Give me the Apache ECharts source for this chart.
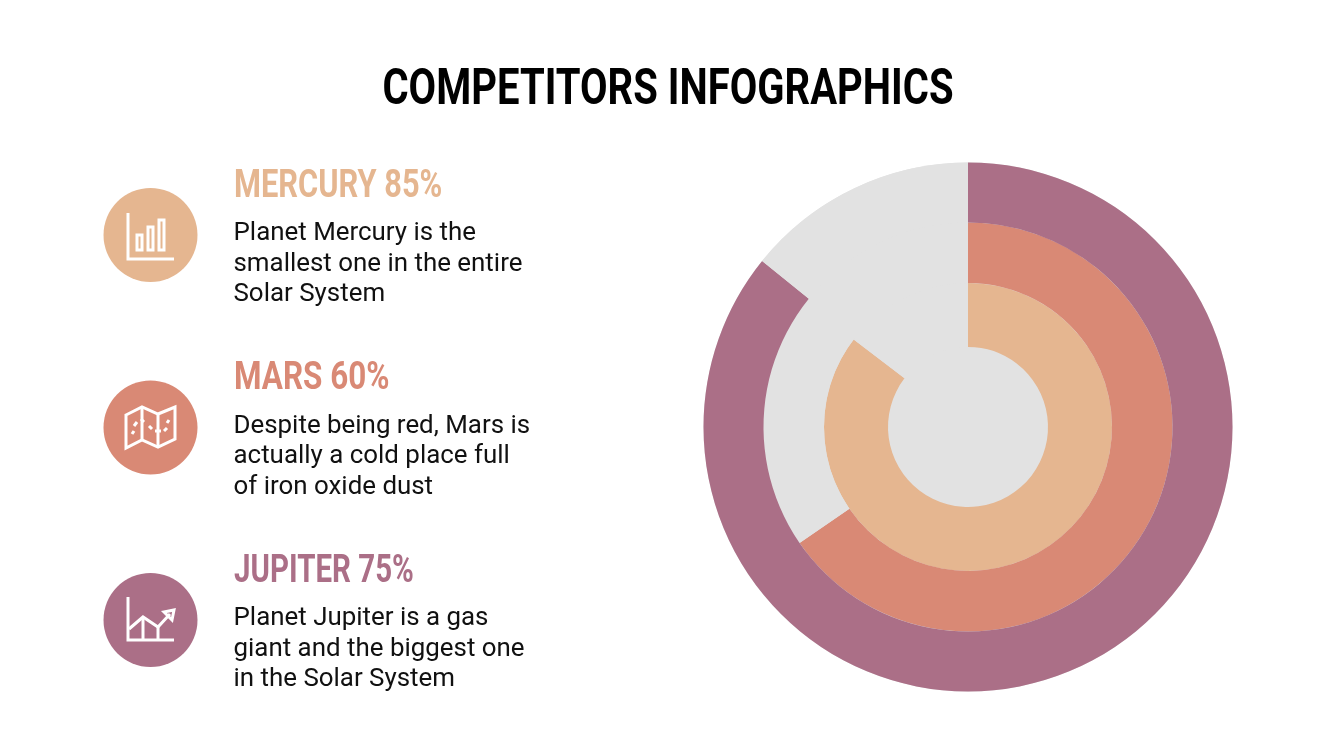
<!DOCTYPE html>
<html lang="en">
<head>
    <meta charset="UTF-8">
    <title>Competitors Infographics</title>
    <script src="https://cdn.jsdelivr.net/npm/echarts@6/dist/echarts.min.js"></script>
    <style>
        * { margin: 0; padding: 0; }
        body { background: #fff; }
        #chart { width: 1336px; height: 752px; }
    </style>
</head>
<body>
    <div id="chart"></div>
    <script>
        const titleText = 'COMPETITORS INFOGRAPHICS';
        const headings = ['MERCURY 85%', 'MARS 60%', 'JUPITER 75%'];
        const bodies = [
            ['Planet Mercury is the', 'smallest one in the entire', 'Solar System'],
            ['Despite being red, Mars is', 'actually a cold place full', 'of iron oxide dust'],
            ['Planet Jupiter is a gas', 'giant and the biggest one', 'in the Solar System']
        ];
        // share of each ring as drawn in the picture, inner ring first
        const ringNames = ['Mercury', 'Mars', 'Jupiter'];
        const ringValues = [85.4, 65.4, 85.8];
        const ringColors = ['#E5B690', '#D98975', '#AB6F87'];
        const grey = '#E2E2E2';

        const cx = 968, cy = 427;
        const ringRadii = [[80, 144], [144, 204.5], [204.5, 264.5]];
        const rowY = [235, 427.5, 620];
        // Roboto is squeezed to stand in for the condensed heading face
        const headingScale = [0.8, 0.816, 0.766];

        const series = [{
            type: 'pie', silent: true, center: [cx, cy], radius: [0, 264.5],
            label: { show: false }, labelLine: { show: false },
            itemStyle: { color: grey }, data: [{ name: 'Rest', value: 100 }]
        }];
        ringValues.forEach((v, i) => {
            series.push({
                type: 'pie', silent: true, center: [cx, cy], radius: ringRadii[i],
                startAngle: 90, clockwise: true,
                label: { show: false }, labelLine: { show: false },
                data: [
                    { name: ringNames[i], value: v, itemStyle: { color: ringColors[i] } },
                    { name: 'Rest', value: 100 - v, itemStyle: { color: grey } }
                ]
            });
        });

        const line = (points, closed) => ({
            type: closed ? 'polygon' : 'polyline',
            shape: { points: points },
            style: { stroke: '#fff', lineWidth: 3, fill: closed ? 'transparent' : null, lineJoin: 'miter' }
        });

        const icons = [
            [
                line([[128, 213], [128, 259], [174, 259]]),
                line([[137, 235], [142, 235], [142, 250], [137, 250]], true),
                line([[148, 227], [153, 227], [153, 250], [148, 250]], true),
                line([[159, 220], [164, 220], [164, 250], [159, 250]], true)
            ],
            [
                line([[126, 415], [142, 407], [158, 414], [175, 407], [175, 439], [158, 447], [142, 440], [126, 448]], true),
                line([[142, 407], [142, 440]]),
                line([[158, 414], [158, 447]]),
                line([[132, 434], [134, 431]]),
                line([[134, 426], [137, 422]]),
                line([[141, 419], [144, 422]]),
                line([[149, 426], [152, 429]]),
                line([[155, 431], [161, 431]]),
                line([[164, 431], [167, 428]]),
                line([[167, 423], [169, 420]])
            ],
            [
                line([[128, 597], [128, 640], [174, 640]]),
                line([[129, 629], [143, 617], [158, 627], [170, 614]]),
                line([[143, 617], [143, 640]]),
                line([[158, 627], [158, 640]]),
                line([[164, 612], [174, 610], [172, 620]], true)
            ]
        ];

        const graphic = [{
            type: 'text', x: 668, y: 91, scaleX: 0.8,
            style: {
                text: titleText, fill: '#000', align: 'center', verticalAlign: 'middle',
                font: 'bold 50px Roboto'
            }
        }];
        rowY.forEach((y, i) => {
            graphic.push({
                type: 'circle', shape: { cx: 150.5, cy: y, r: 47 },
                style: { fill: ringColors[i] }
            });
            icons[i].forEach(el => graphic.push(el));
            graphic.push({
                type: 'text', x: 234, y: y - 48, scaleX: headingScale[i],
                style: {
                    text: headings[i], fill: ringColors[i], align: 'left', verticalAlign: 'middle',
                    font: 'bold 38.5px Roboto'
                }
            });
            bodies[i].forEach((t, j) => {
                graphic.push({
                    type: 'text', x: 233.5, y: y - 1 + j * 30.5,
                    style: {
                        text: t, fill: '#111', align: 'left', verticalAlign: 'middle',
                        font: '25.9px Roboto'
                    }
                });
            });
        });

        const myChart = echarts.init(document.getElementById('chart'));
        myChart.setOption({
            animation: false,
            backgroundColor: '#fff',
            series: series,
            graphic: { elements: graphic }
        });
    </script>
</body>
</html>
